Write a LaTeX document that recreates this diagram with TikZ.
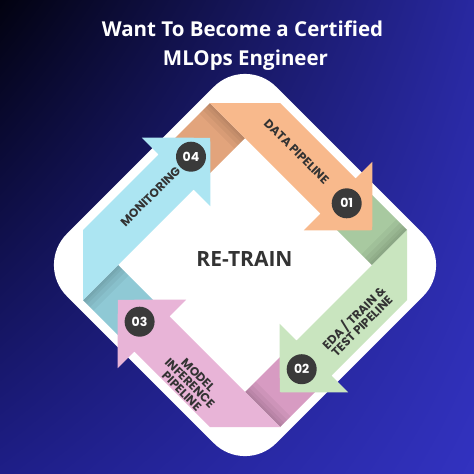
\documentclass[tikz,border=0pt]{standalone}
\usepackage{fontspec}
\usetikzlibrary{shadings}
\setmainfont{Open Sans}
\newfontfamily\lblfont{Poppins}
\definecolor{orL}{HTML}{F8B98C}
\definecolor{orD}{HTML}{E2A47C}
\definecolor{grL}{HTML}{C9E5BF}
\definecolor{grD}{HTML}{A8C9A0}
\definecolor{piL}{HTML}{E8B4D7}
\definecolor{piD}{HTML}{D79BC2}
\definecolor{blL}{HTML}{ACE5F2}
\definecolor{blD}{HTML}{8FC9D5}
\definecolor{txt}{HTML}{333333}
\definecolor{badge}{HTML}{3A3A3A}
\definecolor{bgTL}{HTML}{020210}
\definecolor{bgTR}{HTML}{2828A0}
\definecolor{bgBL}{HTML}{1E1E88}
\definecolor{bgBR}{HTML}{3232C0}
\tikzset{
 frO/.style={shift={(245pt,-265pt)},x={(0.7071pt,0.7071pt)},y={(0.7071pt,-0.7071pt)}},
 frG/.style={shift={(245pt,-265pt)},x={(0.7071pt,-0.7071pt)},y={(-0.7071pt,-0.7071pt)}},
 frP/.style={shift={(245pt,-265pt)},x={(-0.7071pt,-0.7071pt)},y={(-0.7071pt,0.7071pt)}},
 frB/.style={shift={(245pt,-265pt)},x={(-0.7071pt,0.7071pt)},y={(0.7071pt,0.7071pt)}},
 badgenode/.style={circle, fill=badge, minimum size=30pt, inner sep=0pt, text=white,
   font=\lblfont\bfseries\fontsize{12.5}{12.5}\selectfont},
 lbl/.style={text=txt, font=\lblfont\bfseries\fontsize{12}{11.5}\selectfont, align=center, inner sep=0pt},
 titletext/.style={text=white, font=\bfseries\fontsize{20.5}{20.5}\selectfont, anchor=base, inner sep=0pt},
}
\newcommand{\foldpart}[2]{%
 \begin{scope}[#1]
  \fill[#2] (17,-139.3) -- (89.8,-139.3) -- (89.8,-89.8) -- (17,-89.8) -- cycle;
  \foreach \w in {3,6,10,15}{
   \fill[black, fill opacity=0.045] (89.8-\w,-139.3) -- (89.8,-139.3) -- (89.8,-89.8) -- (89.8-\w,-89.8) -- cycle;}
 \end{scope}}
\newcommand{\ribbonpart}[2]{%
 \begin{scope}[#1]
  \fill[#2] (89.8,-139.3) -- (139.3,-89.8) -- (139.3,17) -- (163,17) -- (114.55,65.4) -- (66.1,17) -- (89.8,17) -- cycle;
 \end{scope}}
\begin{document}
\begin{tikzpicture}[x=1pt,y=-1pt]
\useasboundingbox (0,0) rectangle (474,474);
\shade[upper left=bgTL, upper right=bgTR, lower left=bgBL, lower right=bgBR] (0,0) rectangle (474,474);
% white rounded diamond
\begin{scope}[frO]
 \fill[white, rounded corners=44pt] (-148,-148) -- (148,-148) -- (148,148) -- (-148,148) -- cycle;
\end{scope}
% folded (dark) parts
\foldpart{frO}{orD}
\foldpart{frG}{grD}
\foldpart{frP}{piD}
\foldpart{frB}{blD}
% ribbons with heads
\ribbonpart{frO}{orL}
\ribbonpart{frG}{grL}
\ribbonpart{frP}{piL}
\ribbonpart{frB}{blL}
% badges
\node[badgenode] (n01) at (346.7,203.3) {01};
\node[badgenode] (n02) at (301.7,369.2) {02};
\node[badgenode] (n03) at (139.6,321.7) {03};
\node[badgenode] (n04) at (191,156.7) {04};
% labels
\node[lbl, rotate=-45] (l1) at (296.5,151.5) {DATA PIPELINE};
\node[lbl, rotate=45] (l2) at (357,321) {EDA / TRAIN \&\\TEST PIPELINE};
\node[lbl, rotate=-45] (l3) at (190,383) {MODEL\\INFERENCE\\PIPELINE};
\node[lbl, rotate=45] (l4) at (150.5,196.5) {MONITORING};
% centre
\node[text=txt, font=\bfseries\fontsize{21}{21}\selectfont, anchor=base, inner sep=0pt] (center) at (244.5,266.7) {RE-TRAIN};
% title
\node[titletext] (t1) at (242.5,36) {Want To Become a Certified};
\node[titletext] (t2) at (245.5,65) {MLOps Engineer};
\end{tikzpicture}
\end{document}
